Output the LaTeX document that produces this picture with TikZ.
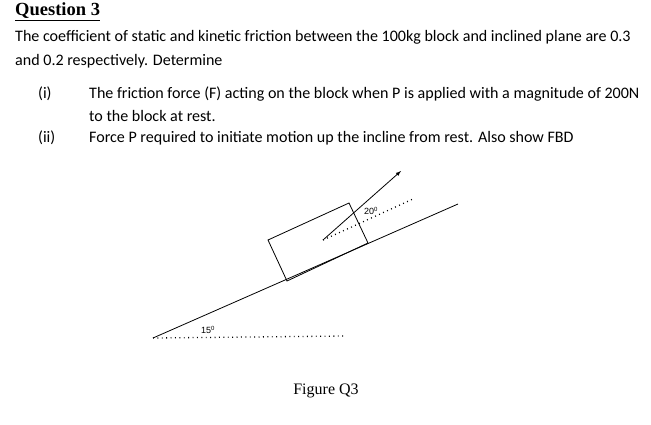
\documentclass[tikz,border=0pt]{standalone}
\usepackage{fontspec}
\setmainfont{Carlito}
\newfontfamily\timesf{Liberation Serif}
\newfontfamily\arialf{Liberation Sans}
\begin{document}
\begin{tikzpicture}[x=1pt,y=-1pt,
  txt/.style={anchor=west,inner sep=0pt,font=\fontsize{16.05}{18}\selectfont},
  ln/.style={line width=0.8pt},
  dot/.style={line width=1.3pt,dash pattern=on 0.9pt off 3.5pt},
  lab/.style={inner sep=0pt,font=\arialf\fontsize{9}{10}\selectfont}]
\useasboundingbox[fill=white] (0,0) rectangle (651,424);
\node[anchor=west,inner sep=0pt,font=\timesf\bfseries\fontsize{18.5}{20}\selectfont] (q) at (15,12) {\underline{Question 3}};
\node[txt] (l1) at (15,37) {The coefficient of static and kinetic friction between the 100kg block and inclined plane are 0.3};
\node[txt] (l2) at (15,61) {and 0.2 respectively. Determine};
\node[txt] (i) at (38,94) {(i)};
\node[txt] (it) at (89,94) {The friction force (F) acting on the block when P is applied with a magnitude of 200N};
\node[txt] (it2) at (89,116) {to the block at rest.};
\node[txt] (ii) at (38,138) {(ii)};
\node[txt] (iit) at (89,138) {Force P required to initiate motion up the incline from rest. Also show FBD};
% incline
\coordinate (A) at (153,338);
\coordinate (B) at (458,204);
\draw[ln] (A) -- (B);
\draw[dot] (A) -- (345,336);
\coordinate (b1) at (287,281);
\coordinate (b2) at (368,243);
\coordinate (b3) at (349,203);
\coordinate (b4) at (268,240);
\draw[ln] (b1) -- (b2) -- (b3) -- (b4) -- cycle;
\coordinate (P0) at (323,240);
\coordinate (P1) at (401,171);
\coordinate (D1) at (413,199);
\draw[ln,-latex] (P0) -- (P1);
\draw[dot] (P0) -- (D1);
\node[lab] (a15) at (208,330) {15\textsuperscript{0}};
\node[lab] (a20) at (371,211) {20\textsuperscript{0}};
\node[inner sep=0pt,font=\timesf\fontsize{16}{18}\selectfont] (fig) at (326,391) {Figure Q3};
\end{tikzpicture}
\end{document}
